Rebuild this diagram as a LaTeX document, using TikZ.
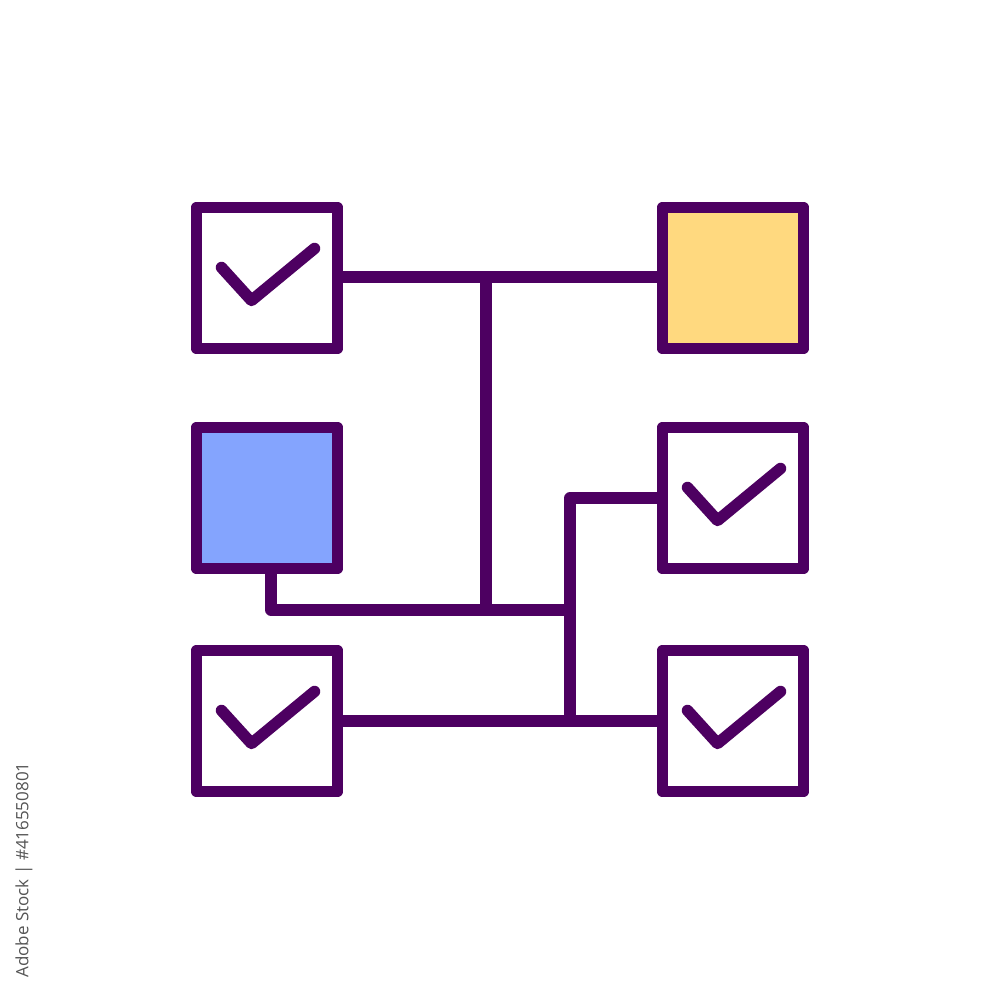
\documentclass[tikz,border=0pt]{standalone}
\usepackage{fontspec}
\newfontfamily\wmfont{Open Sans}
\definecolor{ink}{HTML}{4D0061}
\definecolor{bluefill}{HTML}{84A4FE}
\definecolor{yellowfill}{HTML}{FFD97F}
\definecolor{wmgray}{HTML}{555555}
\tikzset{
  box/.style={draw=ink, line width=11.5pt, rectangle, minimum width=141pt, minimum height=141pt, inner sep=0pt, outer sep=0pt, fill=white, line join=round},
  wire/.style={draw=ink, line width=11.5pt, line join=round},
  chk/.style={draw=ink, line width=11.5pt, line cap=round, line join=round},
}
\newcommand\drawcheck[1]{\draw[chk] ([shift={(25,60)}]#1.north west) -- ([shift={(55,93)}]#1.north west) -- ([shift={(118,41)}]#1.north west);}
\begin{document}
\begin{tikzpicture}[x=1pt,y=-1pt]
\useasboundingbox[fill=white] (0,0) rectangle (1000,1000);
% connectors first
\coordinate (j1) at (486,277);
\coordinate (j2) at (486,610);
\coordinate (sb) at (271,610);
\coordinate (j3) at (570,610);
\coordinate (j4) at (570,498);
\coordinate (j5) at (570,721);
\node[box] (tl) at (267,278) {};
\node[box, fill=yellowfill] (tr) at (733,278) {};
\node[box, fill=bluefill] (ml) at (267,498) {};
\node[box] (mr) at (733,498) {};
\node[box] (bl) at (267,721) {};
\node[box] (br) at (733,721) {};
\draw[wire] (tl.east |- j1) -- (tr.west |- j1);
\draw[wire] (j1) -- (j2);
\draw[wire] (ml.south -| sb) -- (sb) -- (j3);
\draw[wire] (j5) -- (j4) -- (mr.west |- j4);
\draw[wire] (bl.east |- j5) -- (br.west |- j5);
\drawcheck{tl}
\drawcheck{mr}
\drawcheck{bl}
\drawcheck{br}
\node[rotate=90, text=wmgray, font=\wmfont\fontsize{17}{17}\selectfont, inner sep=0pt] (wm) at (24,870) {Adobe Stock | \#416550801};
\end{tikzpicture}
\end{document}
